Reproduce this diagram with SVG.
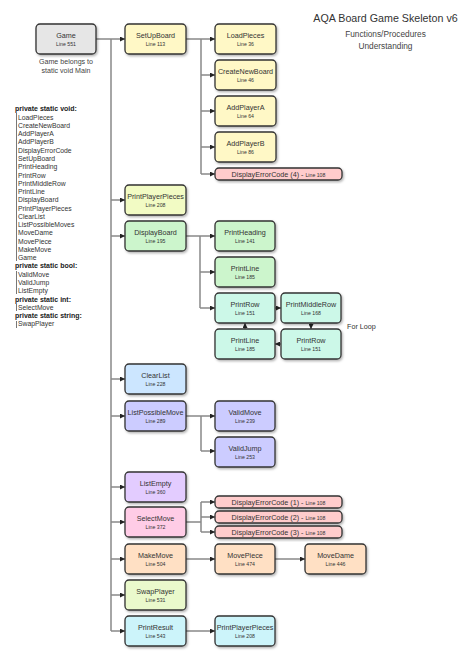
<svg xmlns="http://www.w3.org/2000/svg" width="474" height="660" viewBox="0 0 474 660">
<style>
.b{stroke:#333;stroke-width:1.3;filter:url(#sh)}
.t{font-family:"Liberation Sans",Arial,sans-serif;font-size:7.2px;fill:#333;text-anchor:middle}
.l{font-family:"Liberation Sans",Arial,sans-serif;font-size:5.2px;fill:#333;text-anchor:middle}
.c{fill:none;stroke:#888;stroke-width:1.5}
.a{marker-end:url(#ar)}
.li{font-family:"Liberation Sans",Arial,sans-serif;font-size:6.8px;fill:#333}
.hd{font-family:"Liberation Sans",Arial,sans-serif;font-size:7px;font-weight:bold;fill:#222}
.gy{fill:#e6e6e6}.ye{fill:#fff8c6}.yg{fill:#f2fbc4}.gr{fill:#ccf5cc}.mi{fill:#ccf8e8}
.bl{fill:#cce6ff}.lv{fill:#ccccff}.pu{fill:#e3ccff}.pk{fill:#ffcce6}.rd{fill:#ffcccc}
.or{fill:#ffe0c4}.sg{fill:#eaf9cc}.cy{fill:#ccf4fa}
</style>
<defs>
<filter id="sh" x="-10%" y="-10%" width="130%" height="140%"><feDropShadow dx="1.2" dy="1.5" stdDeviation="0.8" flood-color="#000" flood-opacity="0.3"/></filter>
<marker id="ar" viewBox="0 0 6 6" refX="6" refY="3" markerWidth="5" markerHeight="5" markerUnits="userSpaceOnUse" orient="auto"><path d="M0,0 L6,3 L0,6 z" fill="#222"/></marker>
</defs>
<rect width="474" height="660" fill="#fff"/>

<g id="title">
<text x="385.5" y="22" style="font-family:'Liberation Sans',Arial,sans-serif;font-size:10.7px;fill:#333;text-anchor:middle">AQA Board Game Skeleton v6</text>
<text x="385.5" y="37" style="font-family:'Liberation Sans',Arial,sans-serif;font-size:8.3px;fill:#444;text-anchor:middle">Functions/Procedures</text>
<text x="385.5" y="49" style="font-family:'Liberation Sans',Arial,sans-serif;font-size:8.3px;fill:#444;text-anchor:middle">Understanding</text>
</g>

<g id="note">
<text x="66" y="64" style="font-family:'Liberation Sans',Arial,sans-serif;font-size:7.1px;fill:#444;text-anchor:middle">Game belongs to</text>
<text x="66" y="72.5" style="font-family:'Liberation Sans',Arial,sans-serif;font-size:7.1px;fill:#444;text-anchor:middle">static void Main</text>
</g>

<g id="legend">
<g stroke="#555" stroke-width="0.8">
<line x1="16.5" y1="113" x2="16.5" y2="261"/>
<line x1="16.5" y1="271" x2="16.5" y2="294"/>
<line x1="16.5" y1="304" x2="16.5" y2="311"/>
<line x1="16.5" y1="321" x2="16.5" y2="328"/>
</g>
<text class="hd" x="15" y="111.3">private static void:</text>
<text class="li" x="18" y="119.6">LoadPieces</text>
<text class="li" x="18" y="127.8">CreateNewBoard</text>
<text class="li" x="18" y="136.1">AddPlayerA</text>
<text class="li" x="18" y="144.4">AddPlayerB</text>
<text class="li" x="18" y="152.6">DisplayErrorCode</text>
<text class="li" x="18" y="160.9">SetUpBoard</text>
<text class="li" x="18" y="169.2">PrintHeading</text>
<text class="li" x="18" y="177.5">PrintRow</text>
<text class="li" x="18" y="185.7">PrintMiddleRow</text>
<text class="li" x="18" y="194">PrintLine</text>
<text class="li" x="18" y="202.3">DisplayBoard</text>
<text class="li" x="18" y="210.5">PrintPlayerPieces</text>
<text class="li" x="18" y="218.8">ClearList</text>
<text class="li" x="18" y="227.1">ListPossibleMoves</text>
<text class="li" x="18" y="235.4">MoveDame</text>
<text class="li" x="18" y="243.6">MovePiece</text>
<text class="li" x="18" y="251.9">MakeMove</text>
<text class="li" x="18" y="260.2">Game</text>
<text class="hd" x="15" y="268.4">private static bool:</text>
<text class="li" x="18" y="276.7">ValidMove</text>
<text class="li" x="18" y="285">ValidJump</text>
<text class="li" x="18" y="293.2">ListEmpty</text>
<text class="hd" x="15" y="301.5">private static int:</text>
<text class="li" x="18" y="309.8">SelectMove</text>
<text class="hd" x="15" y="318">private static string:</text>
<text class="li" x="18" y="326.3">SwapPlayer</text>
</g>

<g id="connectors">
<path class="c a" d="M96,39 H125"/>
<path class="c" d="M111,39 V631"/>
<path class="c a" d="M111,200 H125"/>
<path class="c a" d="M111,236 H125"/>
<path class="c a" d="M111,379 H125"/>
<path class="c a" d="M111,416 H125"/>
<path class="c a" d="M111,487 H125"/>
<path class="c a" d="M111,522 H125"/>
<path class="c a" d="M111,559 H125"/>
<path class="c a" d="M111,595 H125"/>
<path class="c a" d="M111,631 H125"/>

<path class="c a" d="M186,39 H215"/>
<path class="c" d="M201,39 V174"/>
<path class="c a" d="M201,75 H215"/>
<path class="c a" d="M201,111 H215"/>
<path class="c a" d="M201,147 H215"/>
<path class="c a" d="M201,174 H215"/>

<path class="c a" d="M186,236 H215"/>
<path class="c" d="M200,236 V308"/>
<path class="c a" d="M200,272 H215"/>
<path class="c a" d="M200,308 H215"/>
<path class="c a" d="M275,308 H281"/>
<path class="c a" d="M311,323 V329"/>
<path class="c a" d="M281,344 H275"/>
<path class="c a" d="M245,329 V323"/>

<path class="c a" d="M186,416 H215"/>
<path class="c" d="M201,416 V451"/>
<path class="c a" d="M201,451 H215"/>

<path class="c" d="M186,522 H201 M201,502 V532"/>
<path class="c a" d="M201,502 H215"/>
<path class="c a" d="M201,517 H215"/>
<path class="c a" d="M201,532 H215"/>

<path class="c a" d="M186,559 H215"/>
<path class="c a" d="M275,559 H305"/>
<path class="c a" d="M186,631 H215"/>
</g>

<g id="n-game"><rect class="b gy" x="36" y="24" width="60" height="30" rx="4"/><text class="t" x="66" y="37.5">Game</text><text class="l" x="66" y="46">Line 551</text></g>

<g id="n-setupboard"><rect class="b ye" x="125" y="24" width="61" height="30" rx="4"/><text class="t" x="155.5" y="37.5">SetUpBoard</text><text class="l" x="155.5" y="46">Line 113</text></g>
<g id="n-loadpieces"><rect class="b ye" x="215" y="24" width="61" height="30" rx="4"/><text class="t" x="245.5" y="37.5">LoadPieces</text><text class="l" x="245.5" y="46">Line 36</text></g>
<g id="n-createnewboard"><rect class="b ye" x="215" y="60" width="61" height="30" rx="4"/><text class="t" x="245.5" y="73.5">CreateNewBoard</text><text class="l" x="245.5" y="82">Line 46</text></g>
<g id="n-addplayera"><rect class="b ye" x="215" y="96" width="61" height="30" rx="4"/><text class="t" x="245.5" y="109.5">AddPlayerA</text><text class="l" x="245.5" y="118">Line 64</text></g>
<g id="n-addplayerb"><rect class="b ye" x="215" y="132" width="61" height="30" rx="4"/><text class="t" x="245.5" y="145.5">AddPlayerB</text><text class="l" x="245.5" y="154">Line 86</text></g>
<g id="n-dec4"><rect class="b rd" x="215" y="168" width="127" height="12" rx="4"/><text class="t" x="278.5" y="176.5">DisplayErrorCode (4)  -  <tspan style="font-size:5.2px">Line 108</tspan></text></g>

<g id="n-printplayerpieces"><rect class="b yg" x="125" y="185" width="61" height="30" rx="4"/><text class="t" x="155.5" y="198.5">PrintPlayerPieces</text><text class="l" x="155.5" y="207">Line 208</text></g>

<g id="n-displayboard"><rect class="b gr" x="125" y="221" width="61" height="30" rx="4"/><text class="t" x="155.5" y="234.5">DisplayBoard</text><text class="l" x="155.5" y="243">Line 195</text></g>
<g id="n-printheading"><rect class="b gr" x="215" y="221" width="60" height="30" rx="4"/><text class="t" x="245" y="234.5">PrintHeading</text><text class="l" x="245" y="243">Line 141</text></g>
<g id="n-printline1"><rect class="b gr" x="215" y="257" width="60" height="30" rx="4"/><text class="t" x="245" y="270.5">PrintLine</text><text class="l" x="245" y="279">Line 185</text></g>
<g id="n-printrow1"><rect class="b mi" x="215" y="293" width="60" height="30" rx="4"/><text class="t" x="245" y="306.5">PrintRow</text><text class="l" x="245" y="315">Line 151</text></g>
<g id="n-printmiddlerow"><rect class="b mi" x="281" y="293" width="60" height="30" rx="4"/><text class="t" x="311" y="306.5">PrintMiddleRow</text><text class="l" x="311" y="315">Line 168</text></g>
<g id="n-printline2"><rect class="b mi" x="215" y="329" width="60" height="30" rx="4"/><text class="t" x="245" y="342.5">PrintLine</text><text class="l" x="245" y="351">Line 185</text></g>
<g id="n-printrow2"><rect class="b mi" x="281" y="329" width="60" height="30" rx="4"/><text class="t" x="311" y="342.5">PrintRow</text><text class="l" x="311" y="351">Line 151</text></g>
<g id="lbl-forloop"><text x="347" y="328.5" style="font-family:'Liberation Sans',Arial,sans-serif;font-size:7.2px;fill:#333">For Loop</text></g>

<g id="n-clearlist"><rect class="b bl" x="125" y="364" width="61" height="30" rx="4"/><text class="t" x="155.5" y="377.5">ClearList</text><text class="l" x="155.5" y="386">Line 228</text></g>

<g id="n-listpossiblemove"><rect class="b lv" x="125" y="401" width="61" height="30" rx="4"/><text class="t" x="155.5" y="414.5">ListPossibleMove</text><text class="l" x="155.5" y="423">Line 289</text></g>
<g id="n-validmove"><rect class="b lv" x="215" y="401" width="60" height="30" rx="4"/><text class="t" x="245" y="414.5">ValidMove</text><text class="l" x="245" y="423">Line 239</text></g>
<g id="n-validjump"><rect class="b lv" x="215" y="437" width="60" height="30" rx="4"/><text class="t" x="245" y="450.5">ValidJump</text><text class="l" x="245" y="459">Line 253</text></g>

<g id="n-listempty"><rect class="b pu" x="125" y="472" width="61" height="30" rx="4"/><text class="t" x="155.5" y="485.5">ListEmpty</text><text class="l" x="155.5" y="494">Line 360</text></g>

<g id="n-selectmove"><rect class="b pk" x="125" y="507" width="61" height="30" rx="4"/><text class="t" x="155.5" y="520.5">SelectMove</text><text class="l" x="155.5" y="529">Line 372</text></g>
<g id="n-dec1"><rect class="b rd" x="215" y="496" width="127" height="12" rx="4"/><text class="t" x="278.5" y="504.5">DisplayErrorCode (1)  -  <tspan style="font-size:5.2px">Line 108</tspan></text></g>
<g id="n-dec2"><rect class="b rd" x="215" y="511" width="127" height="12" rx="4"/><text class="t" x="278.5" y="519.5">DisplayErrorCode (2)  -  <tspan style="font-size:5.2px">Line 108</tspan></text></g>
<g id="n-dec3"><rect class="b rd" x="215" y="526" width="127" height="12" rx="4"/><text class="t" x="278.5" y="534.5">DisplayErrorCode (3)  -  <tspan style="font-size:5.2px">Line 108</tspan></text></g>

<g id="n-makemove"><rect class="b or" x="125" y="544" width="61" height="30" rx="4"/><text class="t" x="155.5" y="557.5">MakeMove</text><text class="l" x="155.5" y="566">Line 504</text></g>
<g id="n-movepiece"><rect class="b or" x="215" y="544" width="60" height="30" rx="4"/><text class="t" x="245" y="557.5">MovePiece</text><text class="l" x="245" y="566">Line 474</text></g>
<g id="n-movedame"><rect class="b or" x="305" y="544" width="61" height="30" rx="4"/><text class="t" x="335.5" y="557.5">MoveDame</text><text class="l" x="335.5" y="566">Line 446</text></g>

<g id="n-swapplayer"><rect class="b sg" x="125" y="580" width="61" height="30" rx="4"/><text class="t" x="155.5" y="593.5">SwapPlayer</text><text class="l" x="155.5" y="602">Line 531</text></g>

<g id="n-printresult"><rect class="b cy" x="125" y="616" width="61" height="30" rx="4"/><text class="t" x="155.5" y="629.5">PrintResult</text><text class="l" x="155.5" y="638">Line 543</text></g>
<g id="n-printplayerpieces2"><rect class="b cy" x="215" y="616" width="60" height="30" rx="4"/><text class="t" x="245" y="629.5">PrintPlayerPieces</text><text class="l" x="245" y="638">Line 208</text></g>
</svg>
